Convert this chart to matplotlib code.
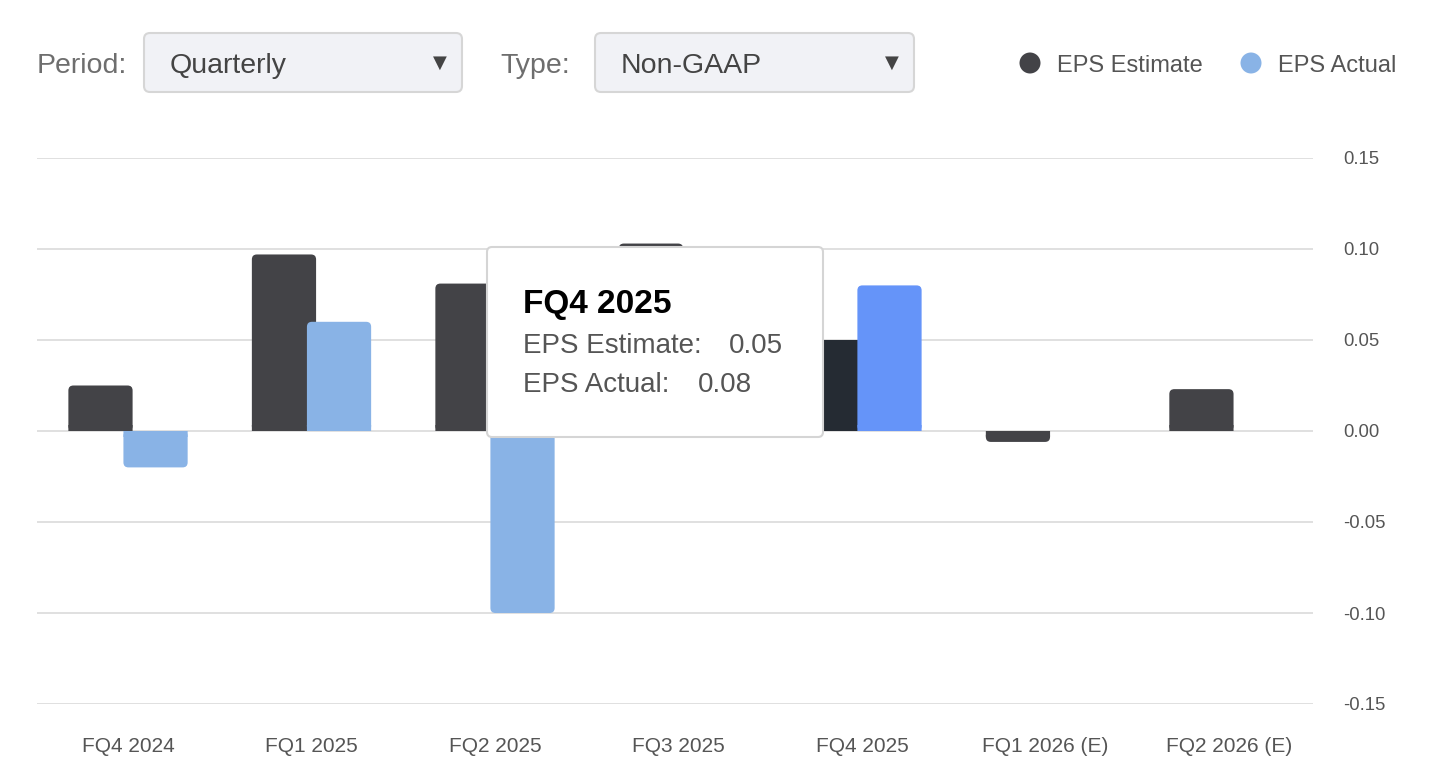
import numpy as np
import matplotlib
matplotlib.use("Agg")
import matplotlib.pyplot as plt
from matplotlib.patches import FancyBboxPatch, Circle
from matplotlib.transforms import IdentityTransform

plt.rcParams['font.family'] = ['Liberation Sans', 'DejaVu Sans']

# data
quarters = ["FQ4 2024", "FQ1 2025", "FQ2 2025", "FQ3 2025", "FQ4 2025",
            "FQ1 2026 (E)", "FQ2 2026 (E)"]
eps_estimate = [0.025, 0.097, 0.081, 0.103, 0.05, -0.006, 0.023]
eps_actual = [-0.02, 0.06, -0.10, 0.03, 0.08, np.nan, np.nan]
yticks = [-0.15, -0.10, -0.05, 0.00, 0.05, 0.10, 0.15]
hover_idx = 4
tip_title = "FQ4 2025"
tip_rows = [("EPS Estimate:", "0.05"), ("EPS Actual:", "0.08")]

W, H = 1436, 782
fig = plt.figure(figsize=(W / 100, H / 100), dpi=100)
fig.patch.set_facecolor("white")

EST = "#434347"
ACT = "#89b3e6"
EST_HI = "#252b33"
ACT_HI = "#6594f9"


def fx(x):
    return x / W


def fy(y):
    return 1 - y / H


# chart area
ax_l, ax_r, ax_t, ax_b = 37, 1313, 158, 704
ax = fig.add_axes([fx(ax_l), fy(ax_b), (ax_r - ax_l) / W, (ax_b - ax_t) / H])
xlim = (-0.496, 6.458)
ylim = (-0.15, 0.15)
ax.set_xlim(*xlim)
ax.set_ylim(*ylim)

x = np.arange(len(quarters))
off = 0.15
bw = 0.35
est_cols = [EST_HI if i == hover_idx else EST for i in x]
act_cols = [ACT_HI if i == hover_idx else ACT for i in x]
est_bars = ax.bar(x - off, eps_estimate, width=bw, color=est_cols, zorder=2,
                  linewidth=0)
act_bars = ax.bar(x + off, eps_actual, width=bw, color=act_cols, zorder=3,
                  linewidth=0)

# rounded bar ends (about 5px radius), square base kept by a short strip
xpp = (xlim[1] - xlim[0]) / (ax_r - ax_l)
ypp = (ylim[1] - ylim[0]) / (ax_b - ax_t)
r = 5 * xpp
asp = ypp / xpp
for bars, z in [(est_bars, 2), (act_bars, 3)]:
    for rect in bars:
        h = rect.get_height()
        if np.isnan(h) or h == 0:
            continue
        y0 = rect.get_y()
        lo = min(y0, y0 + h)
        fb = FancyBboxPatch((rect.get_x(), lo), rect.get_width(), abs(h),
                            boxstyle=f"round,pad=0,rounding_size={r}",
                            mutation_aspect=asp, facecolor=rect.get_facecolor(),
                            edgecolor="none", linewidth=0, zorder=z)
        fb.set_snap(False)
        ax.add_patch(fb)
        rect.set_snap(False)
        rect.set_height(np.sign(h) * min(abs(h) / 2, 6 * ypp))

ax.set_yticks(yticks)
ax.set_yticklabels([f"{v:.2f}" for v in yticks])
ax.yaxis.tick_right()
ax.set_xticks(x)
ax.set_xticklabels(quarters)
ax.tick_params(axis="y", length=0, pad=22, labelsize=13.3, labelcolor="#555555")
ax.tick_params(axis="x", length=0, pad=24, labelsize=15, labelcolor="#555555")
for lab in ax.get_yticklabels():
    lab.set_horizontalalignment("left")
ax.grid(axis="y", color="#dadada", linewidth=1.2, zorder=0)
ax.set_axisbelow(True)
for s in ax.spines.values():
    s.set_visible(False)
ax.set_facecolor("none")

px = IdentityTransform()

# header controls
fig.text(fx(37), fy(73), "Period:", fontsize=20.5, color="#6e6e6e", va="baseline")
fig.text(fx(500), fy(73), "Type:", fontsize=20.5, color="#6e6e6e", va="baseline")
for x0, x1, label in [(144, 462, "Quarterly"), (595, 914, "Non-GAAP")]:
    box = FancyBboxPatch((x0, H - 92), x1 - x0, 59,
                         boxstyle="round,pad=0,rounding_size=6",
                         facecolor="#f1f2f6", edgecolor="#d6d6d6",
                         linewidth=1.5, transform=px)
    fig.add_artist(box)
    fig.text(fx(x0 + 26), fy(73), label, fontsize=20.5, color="#444444", va="baseline")
    fig.text(fx(x1 - 22), fy(63), "\u25bc", fontsize=13, color="#444444",
             va="center", ha="center", family=["DejaVu Sans"])

# legend
for cx, col, label in [(1030, EST, "EPS Estimate"), (1251, ACT, "EPS Actual")]:
    fig.add_artist(Circle((cx, H - 63), 10.5, facecolor=col, edgecolor="none",
                          transform=px))
    fig.text(fx(cx + 27), fy(71.5), label, fontsize=17, color="#555555", va="baseline")

# tooltip
tip = FancyBboxPatch((487, H - 437), 336, 190,
                     boxstyle="round,pad=0,rounding_size=5",
                     facecolor="white", edgecolor="#d5d5d5", linewidth=1.5,
                     transform=px, zorder=10)
fig.add_artist(tip)
fig.text(fx(523), fy(313), tip_title, fontsize=24, fontweight="bold",
         color="black", va="baseline", zorder=11)
val_x = [729, 698]
for (lab, val), base, vx in zip(tip_rows, [353, 392], val_x):
    fig.text(fx(523), fy(base), lab, fontsize=20, color="#555555",
             va="baseline", zorder=11)
    fig.text(fx(vx), fy(base), val, fontsize=20, color="#555555",
             va="baseline", zorder=11)

fig.savefig("out.png", dpi=100)
